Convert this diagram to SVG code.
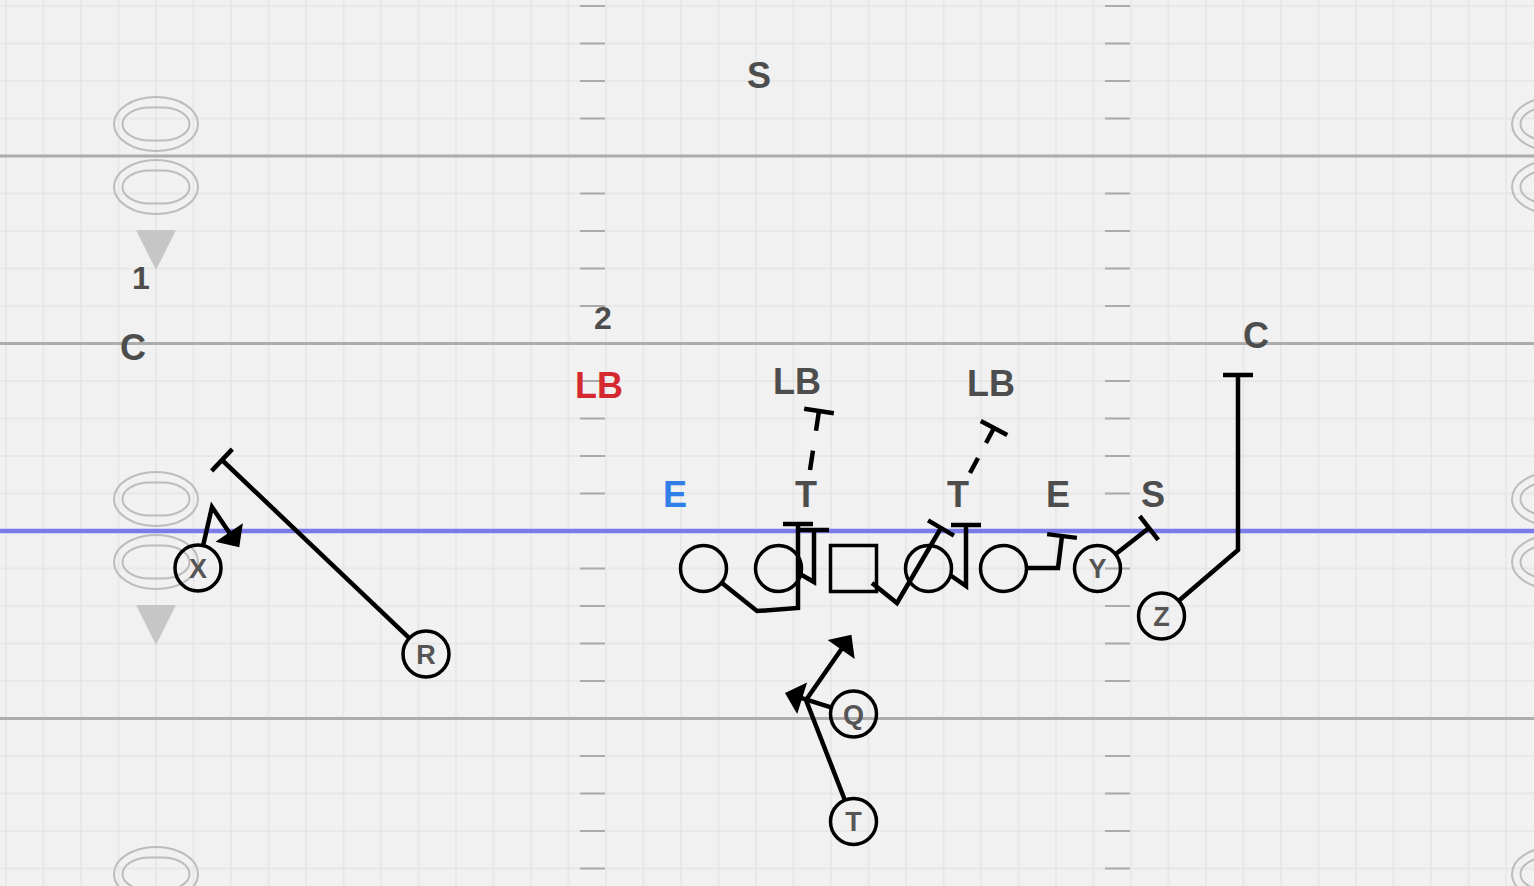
<svg xmlns="http://www.w3.org/2000/svg" width="1534" height="886" viewBox="0 0 1534 886">
  <style>
    .hash { stroke: #aaaaaa; stroke-width: 2; }
    .yard { stroke: #acacac; stroke-width: 3; }
    .num-outer, .num-inner { fill: none; stroke: #bcbcbc; stroke-width: 2; }
    .tri { fill: #c6c6c6; }
    .lbl { font-family: "Liberation Sans", Arial, Helvetica, sans-serif; font-weight: bold; font-size: 36px; fill: #4d4d4d; text-anchor: middle; }
    .numtxt { font-size: 32px; }
    .red { fill: #d5282f; }
    .blue { fill: #2f7fe6; }
    .player { fill: none; stroke: #000; stroke-width: 3.5; }
    .plabel { font-family: "Liberation Sans", Arial, Helvetica, sans-serif; font-weight: bold; font-size: 27px; fill: #555555; text-anchor: middle; }
    .route { fill: none; stroke: #000; stroke-width: 4.5; stroke-linejoin: miter; }
    .dash { stroke-dasharray: 20 20; }
    .dash2 { stroke-dasharray: 17 17; }
  </style>
  <defs>
    <pattern id="grid" patternUnits="userSpaceOnUse" x="-12.75" y="-12.75" width="37.5" height="37.5">
      <path d="M0,18.75 H37.5 M18.75,0 V37.5" stroke="#e5e5e5" stroke-width="1.5" fill="none"/>
    </pattern>
    <marker id="tbar" markerUnits="userSpaceOnUse" viewBox="-4 -17 8 34" markerWidth="8" markerHeight="34" refX="0" refY="0" orient="auto" overflow="visible">
      <path d="M0,-15 V15" stroke="#000" stroke-width="4.5" fill="none" stroke-dasharray="none"/>
    </marker>
    <marker id="arrow" markerUnits="userSpaceOnUse" viewBox="0 0 18 33" markerWidth="18" markerHeight="33" refX="12" refY="16.5" orient="auto" overflow="visible">
      <path d="M0,0 L18,16.5 L0,33 Z" fill="#000"/>
    </marker>
    <g id="numshape">
      <ellipse cx="0" cy="0" rx="42" ry="27" class="num-outer"/>
      <rect x="-33.5" y="-16.5" width="67" height="33" rx="27" ry="16.5" class="num-inner"/>
    </g>
  </defs>

  <!-- field -->
  <g id="field">
    <rect x="0" y="0" width="1534" height="886" fill="#f1f1f1"/>
    <rect x="0" y="0" width="1534" height="886" fill="url(#grid)"/>
    <g id="hashes">
      <path class="hash" d="M580,6H605 M580,43.5H605 M580,81H605 M580,118.5H605 M580,193.5H605 M580,231H605 M580,268.5H605 M580,306H605 M580,381H605 M580,418.5H605 M580,456H605 M580,493.5H605 M580,568.5H605 M580,606H605 M580,643.5H605 M580,681H605 M580,756H605 M580,793.5H605 M580,831H605 M580,868.5H605"/>
      <path class="hash" d="M1105,6H1130 M1105,43.5H1130 M1105,81H1130 M1105,118.5H1130 M1105,193.5H1130 M1105,231H1130 M1105,268.5H1130 M1105,306H1130 M1105,381H1130 M1105,418.5H1130 M1105,456H1130 M1105,493.5H1130 M1105,568.5H1130 M1105,606H1130 M1105,643.5H1130 M1105,681H1130 M1105,756H1130 M1105,793.5H1130 M1105,831H1130 M1105,868.5H1130"/>
    </g>
    <g id="field-numbers">
      <use href="#numshape" x="156" y="124"/>
      <use href="#numshape" x="156" y="187"/>
      <use href="#numshape" x="156" y="499"/>
      <use href="#numshape" x="156" y="562"/>
      <use href="#numshape" x="156" y="874"/>
      <use href="#numshape" x="1554" y="124"/>
      <use href="#numshape" x="1554" y="187"/>
      <use href="#numshape" x="1554" y="499"/>
      <use href="#numshape" x="1554" y="562"/>
      <use href="#numshape" x="1554" y="874"/>
      <polygon class="tri" points="136,230 176,230 156,270"/>
      <polygon class="tri" points="136,605 176,605 156,645"/>
    </g>
    <path class="yard" d="M0,156H1534 M0,343.5H1534 M0,718.5H1534"/>
    <line id="line-of-scrimmage" x1="0" y1="531" x2="1534" y2="531" stroke="#7a7aeb" stroke-width="4.5"/>
  </g>

  <!-- defense labels -->
  <g id="defense">
    <g id="def-S-deep"><text class="lbl" x="759" y="88">S</text></g>
    <g id="zone-1"><text class="lbl numtxt" x="141" y="289">1</text></g>
    <g id="zone-2"><text class="lbl numtxt" x="603" y="329">2</text></g>
    <g id="def-C-left"><text class="lbl" x="133" y="360">C</text></g>
    <g id="def-LB-red"><text class="lbl red" x="599" y="398">LB</text></g>
    <g id="def-LB-1"><text class="lbl" x="797" y="394">LB</text></g>
    <g id="def-LB-2"><text class="lbl" x="991" y="396">LB</text></g>
    <g id="def-E-blue"><text class="lbl blue" x="675" y="507">E</text></g>
    <g id="def-T-1"><text class="lbl" x="806" y="507">T</text></g>
    <g id="def-T-2"><text class="lbl" x="958" y="507">T</text></g>
    <g id="def-E-2"><text class="lbl" x="1058" y="507">E</text></g>
    <g id="def-S-2"><text class="lbl" x="1153" y="507">S</text></g>
    <g id="def-C-right"><text class="lbl" x="1256" y="348">C</text></g>
  </g>

  <!-- connectors / routes -->
  <g id="connectors">
    <polyline class="route" points="203,546 212,507 235.9,542.4" marker-end="url(#arrow)"/>
    <line class="route" x1="409.3" y1="638.1" x2="222" y2="460" marker-end="url(#tbar)"/>
    <polyline class="route" points="721,582.3 757,611 798,608 798,524" marker-end="url(#tbar)"/>
    <polyline class="route" points="800,574 814,582 814,530" marker-end="url(#tbar)"/>
    <polyline class="route" points="872,583 897,603 941,528" marker-end="url(#tbar)"/>
    <polyline class="route" points="950,575 966,586 966,525" marker-end="url(#tbar)"/>
    <polyline class="route" points="1026,568 1058,568 1062,536" marker-end="url(#tbar)"/>
    <line class="route" x1="1116.1" y1="553.8" x2="1149" y2="528" marker-end="url(#tbar)"/>
    <polyline class="route" points="1178.5,601 1238,550 1238,375" marker-end="url(#tbar)"/>
    <line class="route dash" x1="819" y1="411" x2="810" y2="470" marker-start="url(#tbar)"/>
    <line class="route dash2" x1="994" y1="428" x2="970" y2="473" marker-start="url(#tbar)"/>
    <line class="route" x1="831" y1="707.4" x2="790.7" y2="694.7" marker-end="url(#arrow)"/>
    <polyline class="route" points="845,800.5 806,700 848,639.7" marker-end="url(#arrow)"/>
  </g>

  <!-- offense -->
  <g id="offense">
    <g id="player-X"><circle class="player" cx="198" cy="568" r="23"/><text class="plabel" x="198" y="578">X</text></g>
    <g id="player-R"><circle class="player" cx="426" cy="654" r="23"/><text class="plabel" x="426" y="663.5">R</text></g>
    <g id="lineman-1"><circle class="player" cx="703.5" cy="568.5" r="23"/></g>
    <g id="lineman-2"><circle class="player" cx="778.5" cy="568.5" r="23"/></g>
    <g id="center"><rect class="player" x="830.5" y="545.5" width="46" height="46"/></g>
    <g id="lineman-4"><circle class="player" cx="928.5" cy="568.5" r="23"/></g>
    <g id="lineman-5"><circle class="player" cx="1003.5" cy="568.5" r="23"/></g>
    <g id="player-Y"><circle class="player" cx="1097.5" cy="568.5" r="23"/><text class="plabel" x="1097.5" y="578">Y</text></g>
    <g id="player-Z"><circle class="player" cx="1161.5" cy="616" r="23"/><text class="plabel" x="1161.5" y="625.5">Z</text></g>
    <g id="player-Q"><circle class="player" cx="853.5" cy="714" r="23"/><text class="plabel" x="853.5" y="723.5">Q</text></g>
    <g id="player-T"><circle class="player" cx="853.5" cy="821.5" r="23"/><text class="plabel" x="853.5" y="831">T</text></g>
  </g>
</svg>
